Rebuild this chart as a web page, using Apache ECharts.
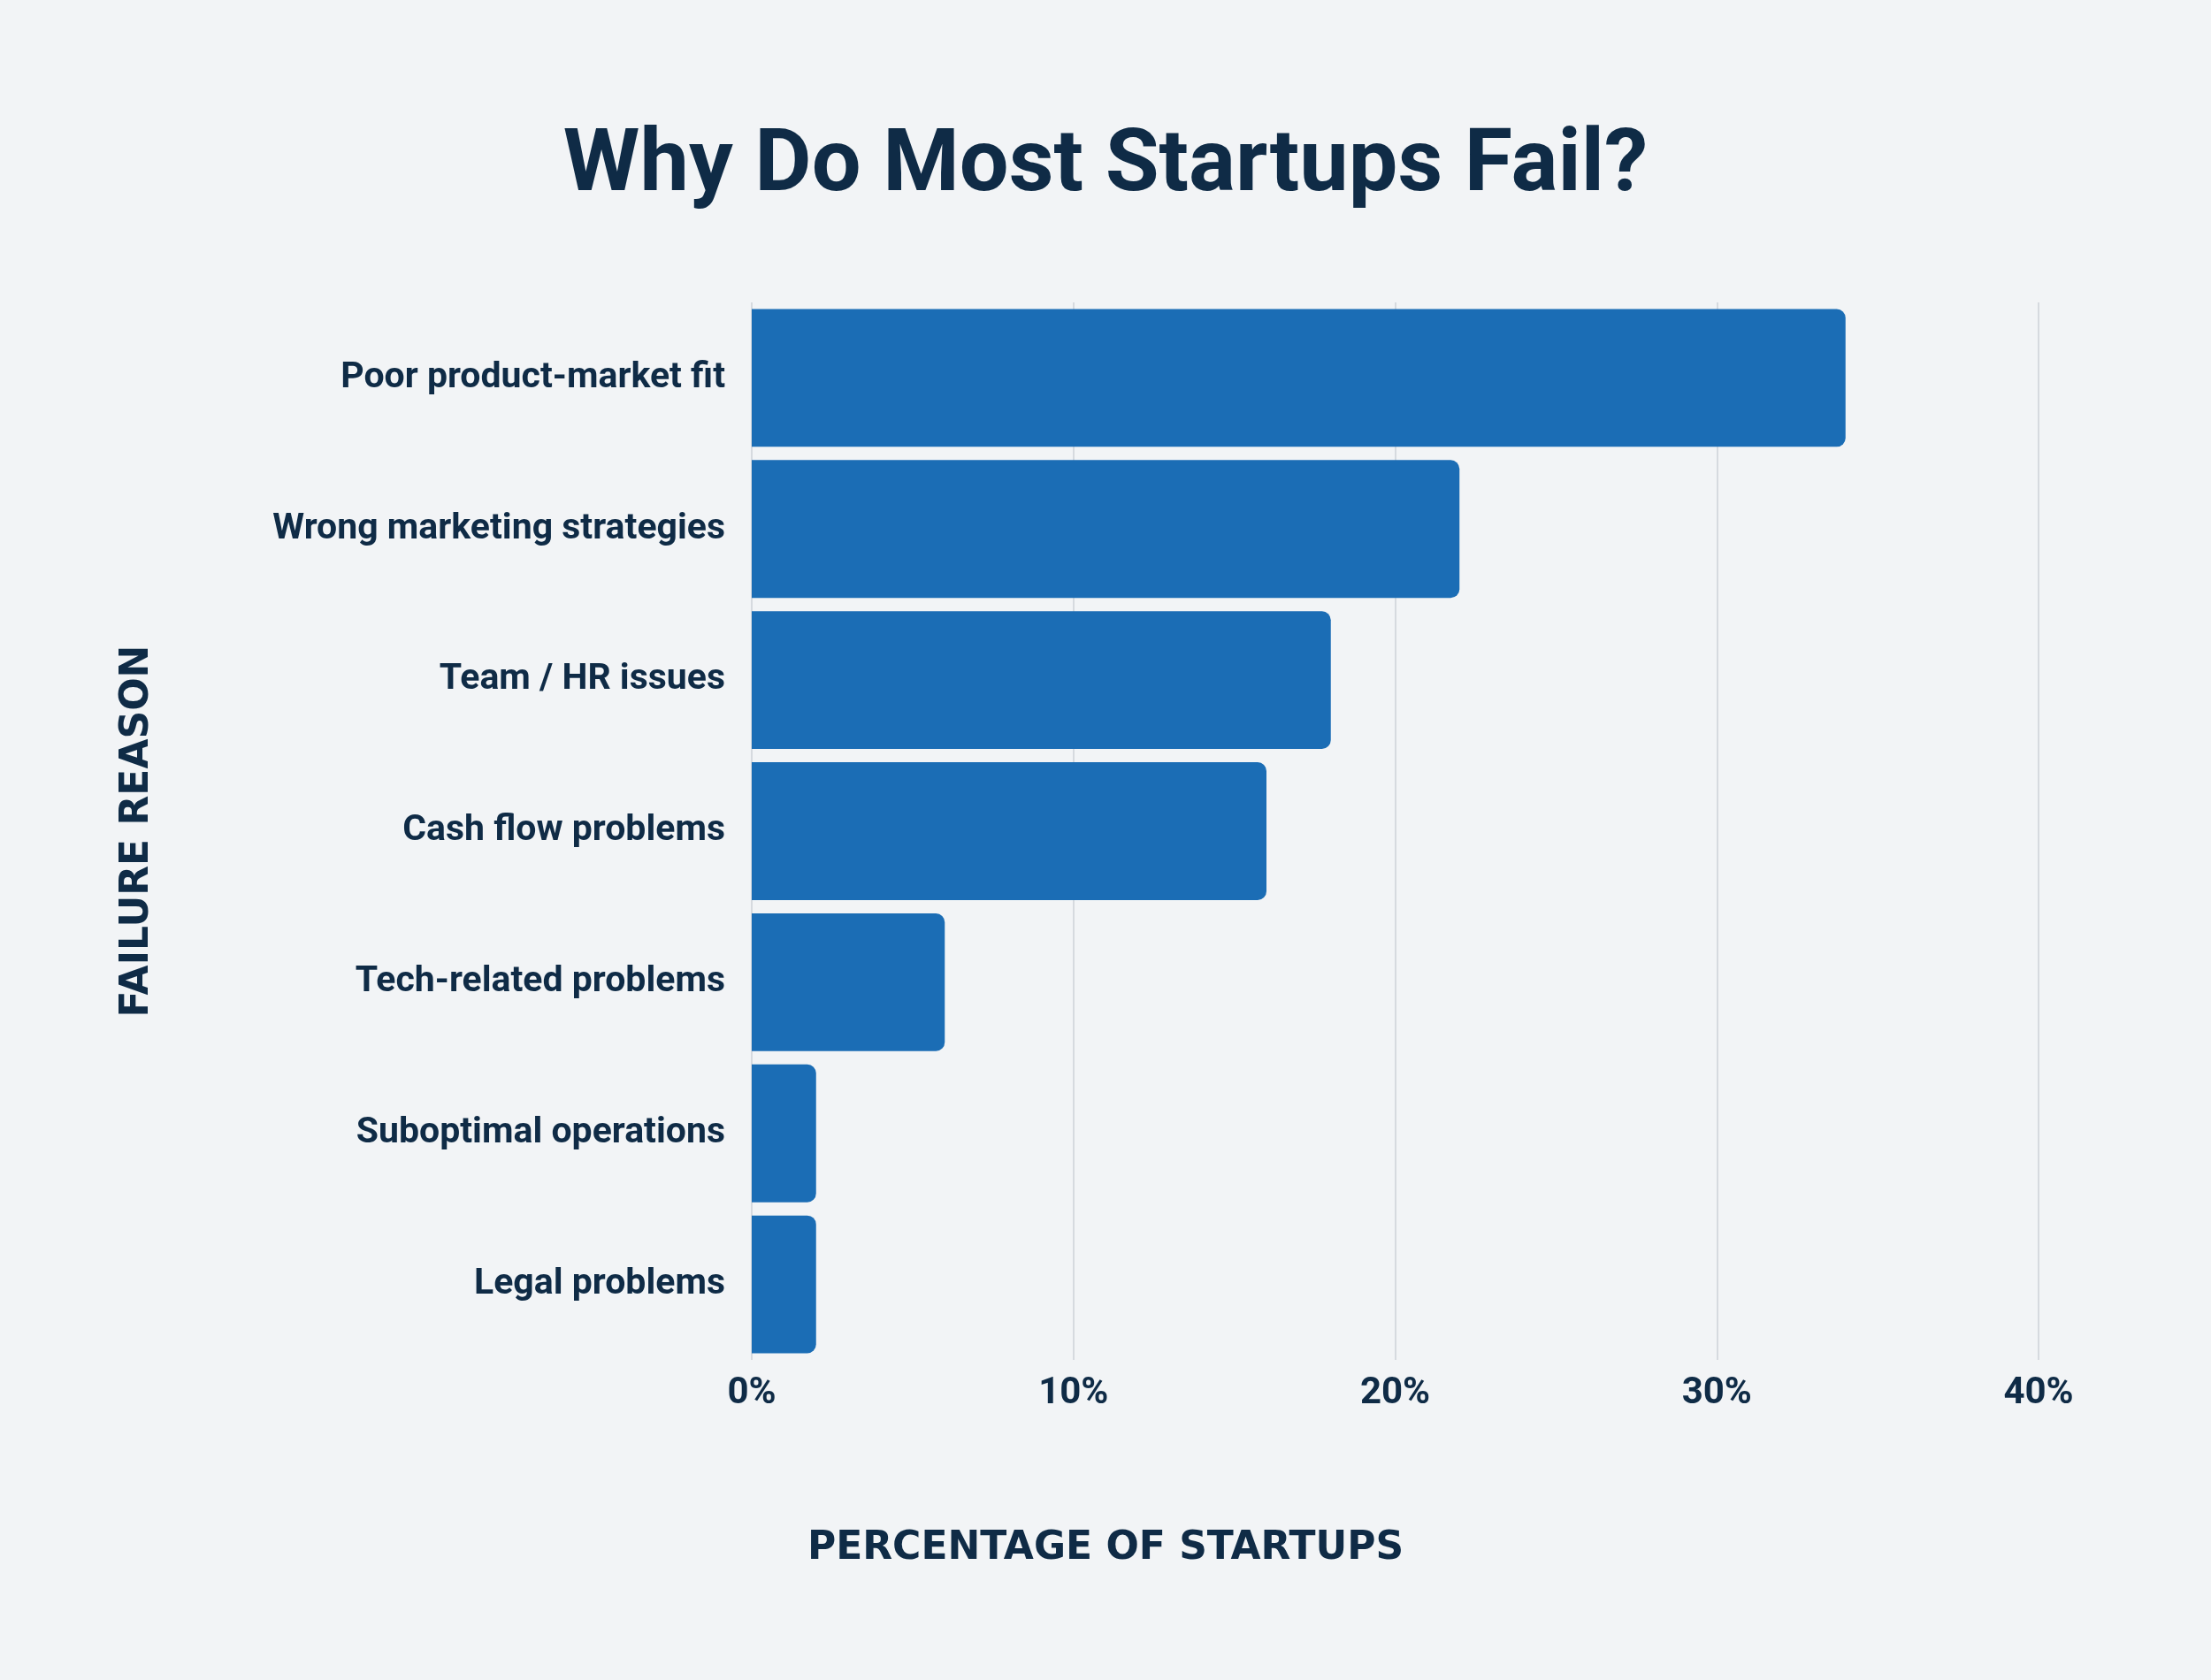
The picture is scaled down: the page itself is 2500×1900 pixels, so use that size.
<!DOCTYPE html>
<html>
<head>
<meta charset="utf-8">
<script src="https://cdn.jsdelivr.net/npm/echarts@6/dist/echarts.min.js"></script>
<style>
html,body{margin:0;padding:0;background:#f2f4f6;}
#chart{width:2500px;height:1900px;}
</style>
</head>
<body>
<div id="chart"></div>
<script>
// data, top bar first
let reasons = ["Poor product-market fit","Wrong marketing strategies","Team / HR issues","Cash flow problems","Tech-related problems","Suboptimal operations","Legal problems"]
let shares = [34,22,18,16,6,2,2]
let xTicks = [0,10,20,30,40]

let navy = "#0f2b46"
let font = "Roboto"
let capsFont = "DejaVu Sans"

let chart = echarts.init(document.getElementById("chart"))

chart.setOption({
    backgroundColor:"#f2f4f6",
    animation:false,
    title:[
        {text:"Why Do Most Startups Fail?",left:"center",top:136,
            textStyle:{fontFamily:font,fontWeight:"bold",fontSize:99,color:navy}},
        {text:"PERCENTAGE OF STARTUPS",left:"center",top:1725,
            textStyle:{fontFamily:capsFont,fontWeight:"bold",fontSize:44,color:navy}}
    ],
    grid:{left:850,right:195,top:342,bottom:362,containLabel:false},
    xAxis:{
        type:"value",
        min:xTicks[0],max:xTicks[xTicks.length-1],interval:10,
        axisLine:{show:false},axisTick:{show:false},
        splitLine:{lineStyle:{color:"#d6dadf",width:2}},
        axisLabel:{margin:17,fontFamily:font,fontWeight:"bold",fontSize:42,color:navy,formatter:v=>v+"%"}
    },
    yAxis:{
        type:"category",
        data:reasons,
        inverse:true,
        name:"FAILURE REASON",
        nameLocation:"middle",
        nameGap:672,
        nameRotate:90,
        nameTextStyle:{fontFamily:capsFont,fontWeight:"bold",fontSize:44,color:navy},
        axisLine:{show:false},axisTick:{show:false},
        axisLabel:{margin:30,fontFamily:font,fontWeight:"bold",fontSize:41,color:navy}
    },
    series:[{
        type:"bar",
        data:shares,
        barCategoryGap:"8.8%",
        itemStyle:{color:"#1b6db5",borderRadius:[0,10,10,0]}
    }]
})
</script>
</body>
</html>
